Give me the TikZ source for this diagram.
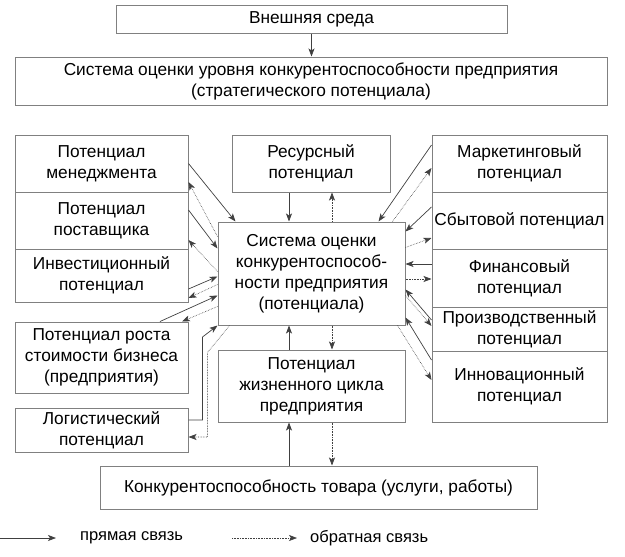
\documentclass[tikz,border=0pt]{standalone}
\usepackage{fontspec}
\setmainfont{Liberation Sans}
\usetikzlibrary{arrows.meta}
\definecolor{boxgray}{HTML}{808080}
\definecolor{linegray}{HTML}{404040}
\tikzset{
  box/.style={draw=boxgray, line width=1pt, align=center, inner sep=0pt, font=\fontsize{17.3}{21}\selectfont},
  direct/.style={draw=linegray, line width=0.7pt, -{Stealth[length=8pt,width=6pt,inset=2pt]}},
  feedback/.style={draw=linegray, line width=0.6pt, densely dotted, -{Stealth[length=8pt,width=6pt,inset=2pt]}},
  legtext/.style={anchor=west, inner sep=0pt, font=\fontsize{16.5}{20}\selectfont}
}
\begin{document}
\begin{tikzpicture}[x=1pt,y=-1pt]
\useasboundingbox (0,0) rectangle (625,557);
% boxes
\node[box, minimum width=391pt, minimum height=28pt] (vnesh) at (311.5,19) {Внешняя среда};
\node[box, minimum width=592pt, minimum height=48pt] (systop) at (311,81) {Система оценки уровня конкурентоспособности предприятия\\(стратегического потенциала)};
\node[box, minimum width=173pt, minimum height=57pt] (men) at (101.5,163.5) {Потенциал\\менеджмента};
\node[box, minimum width=173pt, minimum height=57pt] (post) at (101.5,220.5) {Потенциал\\поставщика};
\node[box, minimum width=173pt, minimum height=53pt] (inv) at (101.5,275.5) {Инвестиционный\\потенциал};
\node[box, minimum width=173pt, minimum height=71pt] (rost) at (101.5,357.5) {Потенциал роста\\стоимости бизнеса\\(предприятия)};
\node[box, minimum width=173pt, minimum height=44pt] (log) at (101.5,430) {Логистический\\потенциал};
\node[box, minimum width=158pt, minimum height=57pt] (res) at (311,163.5) {Ресурсный\\потенциал};
\node[box, minimum width=187pt, minimum height=103pt] (sys) at (311.5,273.5) {Система оценки\\конкурентоспособ-\\ности предприятия\\(потенциала)};
\node[box, minimum width=187pt, minimum height=72pt] (zhc) at (311.5,386) {Потенциал\\жизненного цикла\\предприятия};
\node[box, minimum width=175pt, minimum height=57pt] (mark) at (519.5,163.5) {Маркетинговый\\потенциал};
\node[box, minimum width=175pt, minimum height=57pt] (sbyt) at (519.5,220.5) {Сбытовой потенциал};
\node[box, minimum width=175pt, minimum height=58pt] (fin) at (519.5,278) {Финансовый\\потенциал};
\node[box, minimum width=175pt, minimum height=44pt] (proizv) at (519.5,329) {Производственный\\потенциал};
\node[box, minimum width=175pt, minimum height=71pt] (innov) at (519.5,386.5) {Инновационный\\потенциал};
\node[box, minimum width=437pt, minimum height=43pt] (konk) at (318.5,487.5) {Конкурентоспособность товара (услуги, работы)};
% top
\draw[direct] (vnesh.south) -- (vnesh.south |- systop.north);
% left side
\draw[direct] (men.east) -- ([xshift=18pt]sys.north west);
\draw[feedback] ([yshift=-15pt]sys.north west) -- ([yshift=-18.5pt]men.east);
\draw[direct] ([yshift=10.5pt]post.east) -- ([yshift=-27pt]sys.north west);
\draw[feedback] ([yshift=-50pt]sys.north west) -- ([yshift=-19.5pt]post.east);
\draw[direct] ([yshift=-13.5pt]inv.east) -- ([yshift=-55pt]sys.north west);
\draw[feedback] ([yshift=-63pt]sys.north west) -- ([yshift=-22.5pt]inv.east);
\draw[direct] ([xshift=58.5pt]rost.north) -- ([yshift=-74pt]sys.north west);
\draw[feedback] ([yshift=-85pt]sys.north west) -- ([xshift=80.5pt]rost.north);
\draw[direct] ([yshift=10pt]log.east) -- ++(14,0) -- ++(0,-83) -- (sys.south west);
\draw[feedback] ([xshift=12pt]sys.south west) -- ++(-22,27) |- ([yshift=-7pt]log.east);
% resource
\coordinate (r1) at ([xshift=-22pt]res.south);
\coordinate (r2) at ([xshift=21pt]res.south);
\draw[direct] (r1) -- (r1 |- sys.north);
\draw[feedback] (r2 |- sys.north) -- (r2);
% right side
\draw[direct] ([yshift=18.5pt]mark.west) -- ([xshift=-27pt]sys.north east);
\draw[feedback] ([xshift=-13pt]sys.north east) -- ([yshift=-4.5pt]mark.west);
\draw[direct] ([yshift=13.5pt]sbyt.west) -- ([yshift=-10pt]sys.north east);
\draw[feedback] ([yshift=-26pt]sys.north east) -- ([yshift=-17.5pt]sbyt.west);
\coordinate (f1) at ([yshift=14pt]fin.west);
\coordinate (f2) at ([yshift=-1pt]fin.west);
\draw[direct] (f1) -- (f1 -| sys.east);
\draw[feedback] (f2 -| sys.east) -- (f2);
\draw[direct] ([yshift=9pt]proizv.west) -- ([yshift=-68pt]sys.north east);
\draw[feedback] ([yshift=-74pt]sys.north east) -- ([yshift=3pt]proizv.west);
\draw[direct] ([yshift=26.5pt]innov.west) -- ([yshift=-96pt]sys.north east);
\draw[feedback] ([xshift=-8pt]sys.south east) -- ([yshift=6.5pt]innov.west);
% bottom
\coordinate (b1) at ([xshift=-22.5pt]zhc.north);
\coordinate (b2) at ([xshift=20.5pt]zhc.north);
\draw[feedback] (b2 |- sys.south) -- (b2);
\draw[direct] (b1) -- (b1 |- sys.south);
\draw[direct] (b1 |- konk.north) -- (b1 |- zhc.south);
\draw[feedback] (b2 |- zhc.south) -- (b2 |- konk.north);
% legend
\coordinate (la) at (0,538);
\coordinate (lb) at (56,538);
\coordinate (lc) at (232,538);
\coordinate (ld) at (297,538);
\draw[direct] (la) -- (lb);
\node[legtext] (lt1) at (80,538) {прямая связь};
\draw[feedback] (lc) -- (ld);
\node[legtext] (lt2) at (310,538) {обратная связь};
\end{tikzpicture}
\end{document}
